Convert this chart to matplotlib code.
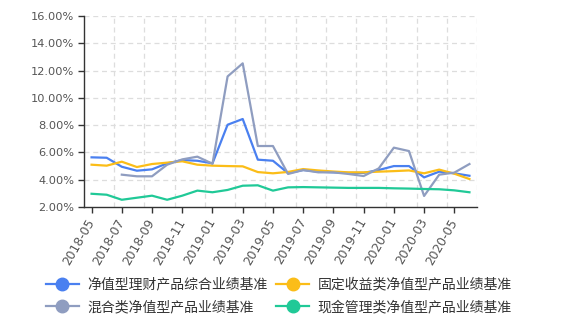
import matplotlib
matplotlib.use("Agg")
import matplotlib.pyplot as plt
from matplotlib.lines import Line2D

plt.rcParams['font.family'] = ['Noto Sans CJK SC', 'DejaVu Sans']

months = ["2018-05", "2018-06", "2018-07", "2018-08", "2018-09", "2018-10", "2018-11", "2018-12",
          "2019-01", "2019-02", "2019-03", "2019-04", "2019-05", "2019-06", "2019-07", "2019-08",
          "2019-09", "2019-10", "2019-11", "2019-12", "2020-01", "2020-02", "2020-03", "2020-04",
          "2020-05", "2020-06"]

names = ["净值型理财产品综合业绩基准", "固定收益类净值型产品业绩基准",
         "混合类净值型产品业绩基准", "现金管理类净值型产品业绩基准"]

blue = [5.64, 5.61, 4.95, 4.66, 4.76, 5.20, 5.44, 5.39, 5.20, 8.03, 8.45, 5.47, 5.39,
        4.48, 4.71, 4.59, 4.54, 4.50, 4.50, 4.71, 5.00, 5.00, 4.17, 4.59, 4.47, 4.29]
orange = [5.10, 5.03, 5.32, 4.93, 5.15, 5.25, 5.35, 5.10, 5.03, 5.00, 4.98, 4.56, 4.47,
          4.57, 4.78, 4.68, 4.60, 4.54, 4.54, 4.59, 4.63, 4.68, 4.47, 4.74, 4.44, 4.05]
grey = [None, None, 4.37, 4.25, 4.25, 5.10, 5.49, 5.69, 5.17, 11.57, 12.53, 6.47, 6.47,
        4.42, 4.71, 4.54, 4.54, 4.42, 4.27, 4.83, 6.35, 6.10, 2.81, 4.37, 4.52, 5.15]
green = [2.97, 2.90, 2.53, 2.68, 2.83, 2.53, 2.83, 3.20, 3.08, 3.25, 3.56, 3.59, 3.20,
         3.44, 3.46, 3.44, 3.42, 3.40, 3.40, 3.40, 3.37, 3.35, 3.32, 3.30, 3.22, 3.08]

colors = ['#4a80f0', '#fbbd18', '#8f9dc0', '#20c997']
series = [blue, orange, grey, green]

W, H = 561, 321
fig = plt.figure(figsize=(W / 100, H / 100), dpi=100)
ax = fig.add_axes([84 / W, (H - 207) / H, (477 - 84) / W, (207 - 16) / H])

x = list(range(len(months)))
for vals, c in zip(series, colors):
    xs = [i for i, v in zip(x, vals) if v is not None]
    ys = [v for v in vals if v is not None]
    ax.plot(xs, ys, color=c, lw=1.6, solid_joinstyle='round', zorder=3)

ax.set_xlim(-0.5, len(months) - 0.5)
ax.set_ylim(2, 16)
ax.set_yticks(range(2, 17, 2))
ax.set_yticklabels([f"{v:.2f}%" for v in range(2, 17, 2)], fontsize=8.2, color='#555555',
                   family=['DejaVu Sans'])
ax.set_xticks(x[::2])
ax.set_xticklabels(months[::2], rotation=60, ha='right', va='center', rotation_mode='anchor',
                   fontsize=8.8, color='#555555', family=['DejaVu Sans'])

for y in range(4, 17, 2):
    ax.axhline(y, color='#dddddd', lw=0.9, ls=(0, (4, 3)), zorder=1)
for b in [i + 1.5 for i in range(0, 25, 2)]:
    ax.axvline(b, color='#dddddd', lw=0.9, ls=(0, (4, 3)), zorder=1)

for s in ['top', 'right']:
    ax.spines[s].set_visible(False)
for s in ['left', 'bottom']:
    ax.spines[s].set_color('#333333')
    ax.spines[s].set_linewidth(1.0)
ax.tick_params(axis='both', colors='#333333', length=4, width=1.0, pad=3)
ax.tick_params(axis='x', pad=5)
ax.tick_params(axis='both', labelcolor='#555555')

order = [0, 2, 1, 3]
handles = [Line2D([0], [0], color=colors[i], lw=1.6, marker='o', markersize=9,
                  markerfacecolor=colors[i], markeredgecolor=colors[i]) for i in order]
labels = [names[i] for i in order]
leg = fig.legend(handles, labels, loc='upper left', bbox_to_anchor=(40 / W, 1 - 272 / H),
                 ncol=2, frameon=False, fontsize=10.0, handlelength=2.4, handletextpad=0.6,
                 columnspacing=0.6, labelspacing=0.6, borderaxespad=0)
for t in leg.get_texts():
    t.set_color('#333333')

fig.savefig("out.png", dpi=100)
